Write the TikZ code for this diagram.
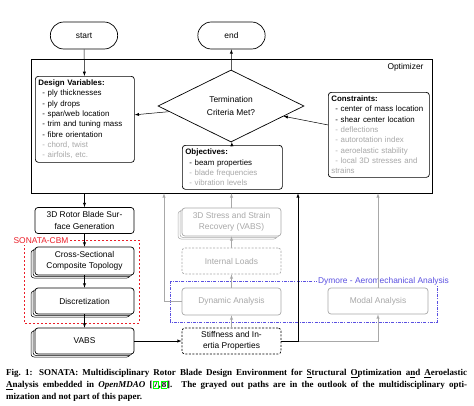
\documentclass[tikz,border=0pt]{standalone}
\usepackage{fontspec}
\setmainfont{Liberation Serif}
\setsansfont{Liberation Sans}
\usepackage{tikz}
\usetikzlibrary{arrows}
\usetikzlibrary{shapes.geometric}
\usetikzlibrary{shapes.misc}
\usetikzlibrary{shadows}
\usepackage{xcolor}
\definecolor{outlook}{gray}{0.66}
\definecolor{dymore}{RGB}{90,80,225}
\definecolor{sonata}{RGB}{235,30,40}
\newcommand{\boxfont}{\sffamily\fontsize{8.4}{11.5}\selectfont}
\newcommand{\listfont}{\sffamily\fontsize{7.9}{10.3}\selectfont}
\newcommand{\capfont}{\rmfamily\bfseries\fontsize{9}{11.8}\selectfont}
\newcommand{\itm}[1]{\hspace*{4pt}- #1}
\newcommand{\gitm}[1]{{\color{outlook}\hspace*{4pt}- #1}}
\newcommand{\reflink}[1]{{\setlength{\fboxsep}{0.3pt}\setlength{\fboxrule}{0.5pt}\fcolorbox{green}{white}{#1}}}
\tikzset{
    pill/.style={rounded rectangle,draw,line width=0.7pt,minimum width=74pt,minimum height=27pt,font=\boxfont},
    listbox/.style={draw,rounded corners=3pt,line width=0.7pt,fill=white,anchor=north west,align=left,inner xsep=3pt,inner ysep=1pt,font=\listfont},
    decision/.style={diamond,draw,line width=0.7pt,fill=white,minimum width=146pt,minimum height=72pt,inner sep=0pt,align=center,font=\boxfont},
    proc/.style={draw,rounded corners=3pt,line width=0.7pt,fill=white,minimum width=99pt,minimum height=26pt,inner sep=1pt,align=center,font=\boxfont},
    stack/.style={proc,
        copy shadow={shadow xshift=-4pt,shadow yshift=-3pt,draw=#1,fill=white,line width=0.5pt},
        copy shadow={shadow xshift=-2pt,shadow yshift=-1.5pt,draw=#1,fill=white,line width=0.5pt}},
    grayproc/.style={proc,draw=outlook,text=outlook},
    dashproc/.style={proc,dash pattern=on 2pt off 1.5pt},
    flow/.style={->,line width=0.5pt},
    grayflow/.style={->,line width=0.5pt,draw=outlook}
}

\begin{document}
\begin{tikzpicture}[x=1pt,y=-1pt,>=latex]
\useasboundingbox (0,0) rectangle (474,405);
% start and end
\node[pill] (start) at (84,35.5) {start};
\node[pill] (end) at (231.5,35.5) {end};
% optimizer
\node[draw,line width=0.6pt,minimum width=401pt,minimum height=134pt] (opt) at (231.5,126) {};
\node[anchor=east,font=\boxfont] (optname) at (427,67) {Optimizer};
\node[listbox,text width=93pt,minimum height=86pt] (dv) at (35,76) {\textbf{Design Variables:}\\
    \itm{ply thicknesses}\\ \itm{ply drops}\\ \itm{spar/web location}\\
    \itm{trim and tuning mass}\\ \itm{fibre orientation}\\
    \gitm{chord, twist}\\ \gitm{airfoils, etc.}};
\node[decision] (term) at (231,106) {Termination\\[1pt]Criteria Met?};
\node[listbox,text width=95pt,minimum height=85pt] (con) at (328,92) {\textbf{Constraints:}\\
    \itm{center of mass location}\\ \itm{shear center location}\\
    \gitm{deflections}\\ \gitm{autorotation index}\\ \gitm{aeroelastic stability}\\
    \gitm{local 3D stresses and}\\ {\color{outlook}strains}};
\node[listbox,text width=94pt,minimum height=44pt] (obj) at (182,145) {\textbf{Objectives:}\\
    \itm{beam properties}\\ \gitm{blade frequencies}\\ \gitm{vibration levels}};
\draw[flow] (start) -- (dv);
\draw[flow] (term) -- (end);
\draw[flow] (term) -- (dv);
\draw[flow] (con) -- (term);
\draw[flow] (obj) -- (term);
% SONATA-CBM
\node[proc] (surf) at (84.5,220.5) {3D Rotor Blade Sur-\\face Generation};
\node[stack=black,minimum height=28pt] (cst) at (84.5,261) {Cross-Sectional\\Composite Topology};
\node[stack=black] (disc) at (84.5,301) {Discretization};
\node[stack=black] (vabs) at (84.5,341) {VABS};
\draw[sonata,line width=0.8pt,dash pattern=on 2pt off 2pt] (24,240) rectangle (139,323);
\node[fill=white,text=sonata,font=\boxfont,inner sep=1pt] (cbm) at (41,241) {SONATA-CBM};
\draw[flow] (opt.south -| surf) -- (surf);
\draw[flow] (surf) -- (cst);
\draw[flow] (cst) -- (disc);
\draw[flow] (disc) -- (vabs);
% Dymore and outlook paths
\node[stack=outlook,draw=outlook,text=outlook,minimum height=28pt] (stress) at (231.5,222) {3D Stress and Strain\\Recovery (VABS)};
\node[grayproc,dash pattern=on 2pt off 1.5pt] (loads) at (231.5,261) {Internal Loads};
\node[grayproc,minimum height=27pt] (dyn) at (231.5,301.5) {Dynamic Analysis};
\node[grayproc,minimum width=100pt] (modal) at (378,301) {Modal Analysis};
\node[dashproc] (stiff) at (231.5,341) {Stiffness and In-\\ertia Properties};
\draw[dymore,line width=0.8pt,dash pattern=on 3pt off 1.2pt on 1pt off 1.2pt] (170,281) rectangle (437,322);
\node[fill=white,text=dymore,font=\boxfont,inner sep=1pt] (dymname) at (383.5,281) {Dymore - Aeromechanical Analysis};
\coordinate (lft) at (164,0);
\coordinate (fb) at (298,0);
\draw[flow] (vabs) -- (stiff);
\draw[grayflow] (stiff.east) -| (modal.south);
\draw[flow] (stiff.east) -| (opt.south -| fb);
\draw[grayflow] (stiff) -- (dyn);
\draw[grayflow] (dyn) -- (loads);
\draw[grayflow] (loads) -- (stress);
\draw[grayflow] (stress) -- (opt.south -| stress);
\draw[grayflow] (dyn.west) -| (opt.south -| lft);
\draw[grayflow] (modal) -- (opt.south -| modal);
% caption
\node[anchor=north west,inner sep=0pt,text width=461pt,align=justify,font=\capfont] (caption) at (6,369)
    {Fig.~1: SONATA: Multidisciplinary Rotor Blade Design Environment for \underline{S}tructural \underline{O}ptimization a\underline{n}d \underline{A}eroelastic\linebreak
    \underline{A}nalysis embedded in \textit{OpenMDAO} [\reflink{7},\reflink{8}]. The grayed out paths are in the outlook of the multidisciplinary opti-\linebreak
    mization and not part of this paper.};
\end{tikzpicture}
\end{document}
